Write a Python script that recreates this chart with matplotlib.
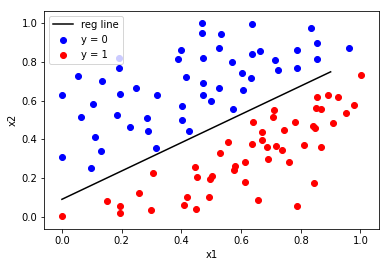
import matplotlib
matplotlib.use("Agg")
import matplotlib.pyplot as plt

# class y = 0 (blue)
x1_class0 = [0.190, 0.190, 0.054, 0.133, 0.000, 0.194, 0.248, 0.320, 0.103, 0.064,
             0.184, 0.469, 0.469, 0.533, 0.637, 0.399, 0.389, 0.472, 0.526, 0.637,
             0.663, 0.570, 0.417, 0.472, 0.526, 0.603, 0.633, 0.606, 0.472, 0.499,
             0.402, 0.573, 0.834, 0.714, 0.724, 0.787, 0.787, 0.854, 0.854, 0.961,
             0.285, 0.228, 0.288, 0.111, 0.131, 0.000, 0.097, 0.315, 0.402, 0.425]
x2_class0 = [0.819, 0.768, 0.728, 0.700, 0.630, 0.633, 0.666, 0.628, 0.583, 0.514,
             0.525, 1.000, 0.949, 0.944, 0.995, 0.861, 0.814, 0.819, 0.871, 0.840,
             0.856, 0.799, 0.721, 0.690, 0.666, 0.742, 0.716, 0.654, 0.628, 0.597,
             0.571, 0.556, 0.975, 0.809, 0.757, 0.861, 0.768, 0.897, 0.814, 0.871,
             0.509, 0.462, 0.442, 0.411, 0.338, 0.307, 0.250, 0.354, 0.499, 0.442]

# class y = 1 (red)
x1_class1 = [1.002, 0.854, 0.891, 0.925, 0.978, 0.851, 0.868, 0.951, 0.710, 0.707,
             0.781, 0.908, 0.840, 0.848, 0.670, 0.744, 0.670, 0.687, 0.717, 0.737,
             0.811, 0.868, 0.690, 0.760, 0.844, 0.787, 0.658, 0.640, 0.556, 0.529,
             0.613, 0.580, 0.576, 0.446, 0.452, 0.503, 0.496, 0.613, 0.419, 0.492,
             0.409, 0.449, 0.305, 0.258, 0.151, 0.194, 0.194, 0.299, 0.000, 0.636]
x2_class1 = [0.731, 0.618, 0.628, 0.618, 0.576, 0.561, 0.556, 0.535, 0.550, 0.514,
             0.488, 0.483, 0.468, 0.457, 0.437, 0.447, 0.395, 0.359, 0.364, 0.343,
             0.369, 0.359, 0.297, 0.281, 0.173, 0.054, 0.085, 0.488, 0.385, 0.328,
             0.281, 0.261, 0.240, 0.256, 0.204, 0.209, 0.197, 0.178, 0.100, 0.100,
             0.059, 0.038, 0.225, 0.121, 0.080, 0.054, 0.018, 0.033, 0.002, 0.375]

# regression line
line_x = [0.0, 0.9]
line_y = [0.090, 0.749]

fig = plt.figure(figsize=(389 / 72, 266 / 72), dpi=72)
ax = fig.add_axes([0.1139, 0.1402, 0.9743 - 0.1139, 0.9605 - 0.1402])

ax.plot(line_x, line_y, color="black", lw=1.5, label="reg line")
ax.scatter(x1_class0, x2_class0, color="blue", s=36, label="y = 0")
ax.scatter(x1_class1, x2_class1, color="red", s=36, label="y = 1")

ax.set_xlim(-0.059, 1.062)
ax.set_ylim(-0.062, 1.066)
ax.set_xticks([0.0, 0.2, 0.4, 0.6, 0.8, 1.0])
ax.set_yticks([0.0, 0.2, 0.4, 0.6, 0.8, 1.0])
ax.set_xlabel("x1")
ax.set_ylabel("x2")
ax.legend(loc="upper left")

fig.savefig("out.png", dpi=72)
